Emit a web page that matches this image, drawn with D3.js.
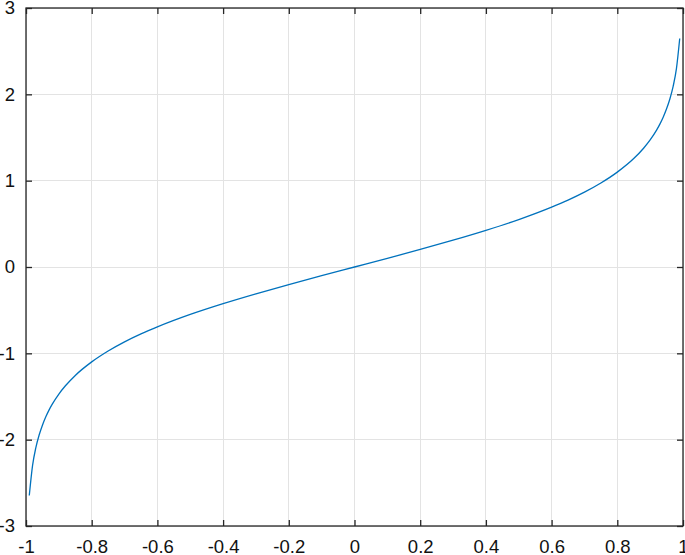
<!DOCTYPE html>
<html>
<head>
<meta charset="utf-8">
<script src="https://cdn.jsdelivr.net/npm/d3@7"></script>
<style>
html,body{margin:0;padding:0;background:#fff;overflow:hidden;}
svg{display:block;}
text{font-family:"Liberation Sans",Arial,Helvetica,sans-serif;}
</style>
</head>
<body>
<svg id="chart" width="685" height="555"></svg>
<script>
// data
const xValues = [-0.99,-0.98,-0.97,-0.96,-0.95,-0.94,-0.93,-0.92,-0.90,-0.88,-0.85,-0.80,-0.75,-0.70,-0.65,-0.60,-0.50,-0.40,-0.30,-0.20,-0.10,0,
                 0.10,0.20,0.30,0.40,0.50,0.60,0.65,0.70,0.75,0.80,0.85,0.88,0.90,0.92,0.93,0.94,0.95,0.96,0.97,0.98,0.99];
const yValues = [-2.647,-2.298,-2.092,-1.946,-1.832,-1.738,-1.658,-1.589,-1.472,-1.376,-1.256,-1.099,-0.973,-0.867,-0.775,-0.693,-0.549,-0.424,-0.310,-0.203,-0.100,0,
                 0.100,0.203,0.310,0.424,0.549,0.693,0.775,0.867,0.973,1.099,1.256,1.376,1.472,1.589,1.658,1.738,1.832,1.946,2.092,2.298,2.647];
const xTicks = [-1,-0.8,-0.6,-0.4,-0.2,0,0.2,0.4,0.6,0.8,1];
const xTickLabels = ["-1","-0.8","-0.6","-0.4","-0.2","0","0.2","0.4","0.6","0.8","1"];
const yTicks = [-3,-2,-1,0,1,2,3];
const yTickLabels = ["-3","-2","-1","0","1","2","3"];

const svg = d3.select("#chart");
const L = 26, R = 683, T = 8, B = 526;
const x = d3.scaleLinear().domain([-1,1]).range([L,R]);
const y = d3.scaleLinear().domain([-3,3]).range([B,T]);

const axisColor = "#262626", gridColor = "#e3e3e3", tickLen = 6;

// grid
const g = svg.append("g");
g.selectAll("line.gx").data(xTicks).enter().append("line")
  .attr("x1", d=>x(d)).attr("x2", d=>x(d)).attr("y1", T).attr("y2", B)
  .attr("stroke", gridColor).attr("stroke-width", 1).attr("shape-rendering","crispEdges");
g.selectAll("line.gy").data(yTicks).enter().append("line")
  .attr("y1", d=>y(d)).attr("y2", d=>y(d)).attr("x1", L).attr("x2", R)
  .attr("stroke", gridColor).attr("stroke-width", 1).attr("shape-rendering","crispEdges");

// curve
const pts = xValues.map((v,i)=>[v, yValues[i]]);
svg.append("path").datum(pts)
  .attr("d", d3.line().x(d=>x(d[0])).y(d=>y(d[1])).curve(d3.curveMonotoneX))
  .attr("fill","none").attr("stroke","#0072BD").attr("stroke-width",1.3);

// axes via d3 axes (inward ticks)
const fmtX = (d,i)=>xTickLabels[i];
const fmtY = (d,i)=>yTickLabels[i];
function styleAxis(sel){
  sel.select(".domain").remove();
  sel.selectAll(".tick line").attr("stroke", axisColor).attr("stroke-width",1.3);
  sel.selectAll(".tick text").attr("fill", "#111").attr("font-size", 18.5)
     .attr("font-family","'Liberation Sans',Arial,Helvetica,sans-serif");
}
const axB = svg.append("g").attr("transform",`translate(0,${B})`)
  .call(d3.axisBottom(x).tickValues(xTicks).tickFormat(fmtX).tickSizeInner(-tickLen).tickSizeOuter(0).tickPadding(14));
styleAxis(axB);
axB.selectAll(".tick text").attr("dy","0.71em");
const axT = svg.append("g").attr("transform",`translate(0,${T})`)
  .call(d3.axisTop(x).tickValues(xTicks).tickFormat("").tickSizeInner(-tickLen).tickSizeOuter(0));
styleAxis(axT);
const axL = svg.append("g").attr("transform",`translate(${L},0)`)
  .call(d3.axisLeft(y).tickValues(yTicks).tickFormat(fmtY).tickSizeInner(-tickLen).tickSizeOuter(0).tickPadding(11));
styleAxis(axL);
const axR = svg.append("g").attr("transform",`translate(${R},0)`)
  .call(d3.axisRight(y).tickValues(yTicks).tickFormat("").tickSizeInner(-tickLen).tickSizeOuter(0));
styleAxis(axR);

// box
svg.append("rect").attr("x",L).attr("y",T).attr("width",R-L).attr("height",B-T)
  .attr("fill","none").attr("stroke",axisColor).attr("stroke-width",1.3);
</script>
</body>
</html>
